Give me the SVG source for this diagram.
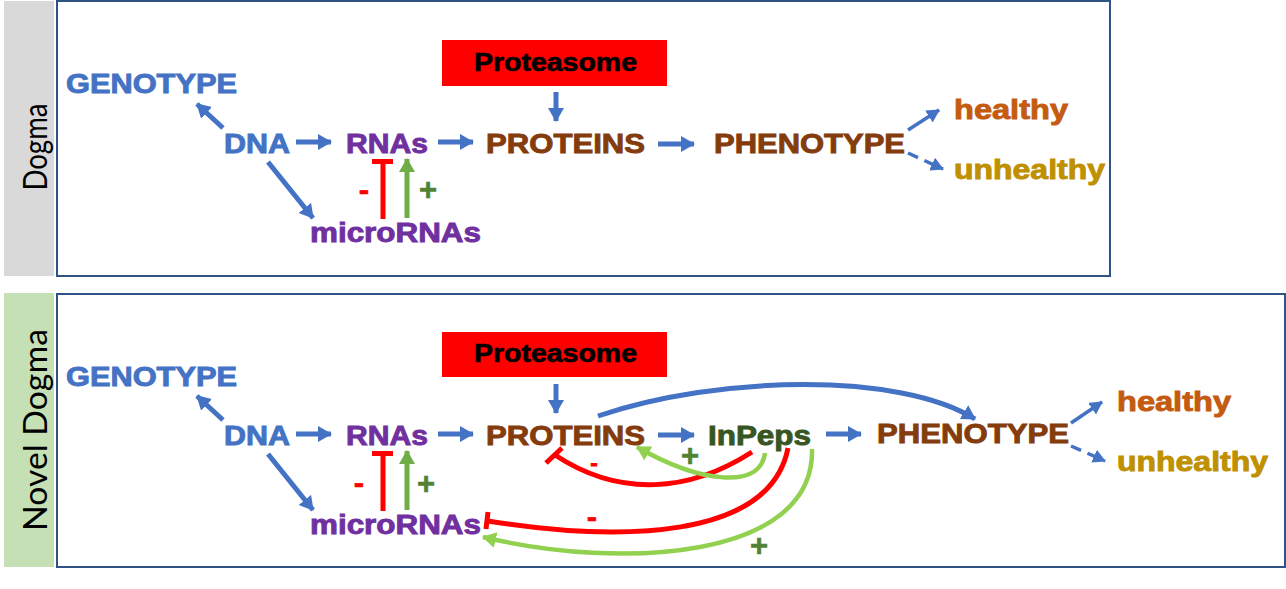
<svg xmlns="http://www.w3.org/2000/svg" width="1286" height="589" viewBox="0 0 1286 589">
<style>
text{font-family:"Liberation Sans",Arial,sans-serif;font-weight:700}
.t{font-size:27px;stroke-width:.9px}
.blue{fill:#4472c4;stroke:#4472c4}.pur{fill:#7030a0;stroke:#7030a0}.br{fill:#843c0c;stroke:#843c0c}.or{fill:#c55a11;stroke:#c55a11}.gold{fill:#bf9000;stroke:#bf9000}.dg{fill:#375623;stroke:#375623}
.side{font-family:Lato,"Noto Sans",sans-serif;font-weight:400;font-size:33px;fill:#000}
.frame{fill:none;stroke:#2f5287;stroke-width:2}
.c{fill:none;stroke-linecap:butt}
.b{stroke:#4472c4;stroke-width:5;marker-end:url(#ab)}
.bt{stroke:#4472c4;stroke-width:3.500;marker-end:url(#abt)}
.r{stroke:#f00;stroke-width:5}
.g{stroke:#70ad47;stroke-width:5;marker-end:url(#ag)}
.lg{stroke:#92d050;stroke-width:4.500;marker-end:url(#alg)}
.sign{font-size:31px;stroke-width:.6px}
.small{font-size:21px;stroke-width:1.200px}
.rs{fill:#f00;stroke:#f00}.gs{fill:#548235;stroke:#548235}
.pt{font-family:"Liberation Sans",Arial,sans-serif;font-size:25px;fill:#000;stroke:#000;stroke-width:.6px}
</style>
<defs>
<marker id="ab" markerUnits="userSpaceOnUse" markerWidth="17" markerHeight="17" refX="13" refY="8" orient="auto"><path d="M0 0L14 8L0 16z" fill="#4472c4"/></marker>
<marker id="abt" markerUnits="userSpaceOnUse" markerWidth="15" markerHeight="15" refX="12" refY="7" orient="auto"><path d="M0 0L13 7L0 14z" fill="#4472c4"/></marker>
<marker id="ag" markerUnits="userSpaceOnUse" markerWidth="17" markerHeight="17" refX="13" refY="8" orient="auto"><path d="M0 0L14 8L0 16z" fill="#70ad47"/></marker>
<marker id="alg" markerUnits="userSpaceOnUse" markerWidth="17" markerHeight="17" refX="13" refY="8" orient="auto"><path d="M0 0L14 8L0 16z" fill="#92d050"/></marker>
</defs>
<rect width="1286" height="589" fill="#fff"/>
<g id="panel-dogma">
<rect x="4" y="1" width="50" height="275" fill="#d9d9d9"/>
<rect class="frame" x="57" y="1" width="1053" height="275"/>
<text class="side" transform="translate(47,147) rotate(-90)" text-anchor="middle" textLength="87" lengthAdjust="spacingAndGlyphs">Dogma</text>
</g>
<g id="panel-novel">
<rect x="4" y="293" width="50" height="274" fill="#c5e0b4"/>
<rect class="frame" x="57" y="294" width="1228" height="273"/>
<text class="side" transform="translate(47,430) rotate(-90)" text-anchor="middle" textLength="202" lengthAdjust="spacingAndGlyphs">Novel Dogma</text>
</g>
<g id="connectors">
<path class="c b" d="M223 128L197 104"/>
<path class="c b" d="M296 142H331"/>
<path class="c b" d="M438 142H473"/>
<path class="c b" d="M268 162L313 218"/>
<path class="c r" d="M383 219V161M372 161.500H393"/>
<path class="c g" d="M407 218V159"/>
<path class="c b" d="M556 92V121"/>
<path class="c b" d="M658 144H694"/>
<path class="c bt" d="M908 130L939 110"/>
<path class="c bt" stroke-dasharray="11 7" d="M908 153L943 169"/>

<path class="c b" d="M223 420L197 396"/>
<path class="c b" d="M296 434H331"/>
<path class="c b" d="M438 434H473"/>
<path class="c b" d="M268 454L313 510"/>
<path class="c r" d="M383 511V453M372 453.500H393"/>
<path class="c g" d="M407 510V451"/>
<path class="c b" d="M556 384V413"/>
<path class="c b" d="M658 435H694"/>
<path class="c b" d="M826 434H861"/>
<path class="c bt" d="M1071 423L1102 402"/>
<path class="c bt" stroke-dasharray="11 7" d="M1071 446L1105 461"/>
<path class="c b" d="M598 416C720 375 900 372 975 419"/>
<path class="c r" d="M752 452C690 492 620 498 555 455M546 463L562 448"/>
<path class="c lg" d="M765 453C760 490 700 483 637 447"/>
<path class="c r" d="M788 448C770 540 620 542 488 521M488 512L486 529"/>
<path class="c lg" d="M812 449C815 560 620 570 483 537"/>
</g>
<g id="proteasome-1"><rect x="442" y="40" width="225" height="46" fill="#f00"/><text class="pt" x="474" y="71" textLength="163" lengthAdjust="spacingAndGlyphs">Proteasome</text></g>
<g id="genotype-1"><text class="t blue" x="66" y="93" textLength="171" lengthAdjust="spacingAndGlyphs">GENOTYPE</text></g>
<g id="dna-1"><text class="t blue" x="224" y="153" textLength="66" lengthAdjust="spacingAndGlyphs">DNA</text></g>
<g id="rnas-1"><text class="t pur" x="346" y="153" textLength="82" lengthAdjust="spacingAndGlyphs">RNAs</text></g>
<g id="proteins-1"><text class="t br" x="486" y="153" textLength="159" lengthAdjust="spacingAndGlyphs">PROTEINS</text></g>
<g id="phenotype-1"><text class="t br" x="714" y="153" textLength="191" lengthAdjust="spacingAndGlyphs">PHENOTYPE</text></g>
<g id="healthy-1"><text class="t or" x="954" y="119" textLength="114" lengthAdjust="spacingAndGlyphs">healthy</text></g>
<g id="unhealthy-1"><text class="t gold" x="954" y="179" textLength="151" lengthAdjust="spacingAndGlyphs">unhealthy</text></g>
<g id="microrna-1"><text class="t pur" x="310" y="242" textLength="171" lengthAdjust="spacingAndGlyphs">microRNAs</text></g>
<g id="signs-1"><text class="sign rs" x="364" y="200" text-anchor="middle">-</text><text class="sign gs" x="428" y="200" text-anchor="middle">+</text></g>

<g id="proteasome-2"><rect x="442" y="332" width="225" height="45" fill="#f00"/><text class="pt" x="474" y="362" textLength="163" lengthAdjust="spacingAndGlyphs">Proteasome</text></g>
<g id="genotype-2"><text class="t blue" x="66" y="386" textLength="171" lengthAdjust="spacingAndGlyphs">GENOTYPE</text></g>
<g id="dna-2"><text class="t blue" x="224" y="445" textLength="66" lengthAdjust="spacingAndGlyphs">DNA</text></g>
<g id="rnas-2"><text class="t pur" x="346" y="445" textLength="82" lengthAdjust="spacingAndGlyphs">RNAs</text></g>
<g id="proteins-2"><text class="t br" x="486" y="445" textLength="159" lengthAdjust="spacingAndGlyphs">PROTEINS</text></g>
<g id="inpeps"><text class="t dg" x="708" y="445" textLength="103" lengthAdjust="spacingAndGlyphs">InPeps</text></g>
<g id="phenotype-2"><text class="t br" x="877" y="443" textLength="192" lengthAdjust="spacingAndGlyphs">PHENOTYPE</text></g>
<g id="healthy-2"><text class="t or" x="1117" y="411" textLength="114" lengthAdjust="spacingAndGlyphs">healthy</text></g>
<g id="unhealthy-2"><text class="t gold" x="1117" y="471" textLength="151" lengthAdjust="spacingAndGlyphs">unhealthy</text></g>
<g id="microrna-2"><text class="t pur" x="310" y="534" textLength="171" lengthAdjust="spacingAndGlyphs">microRNAs</text></g>
<g id="signs-2">
<text class="sign rs" x="359" y="493" text-anchor="middle">-</text><text class="sign gs" x="426" y="494" text-anchor="middle">+</text>
<text class="sign small rs" x="594" y="470" text-anchor="middle">-</text><text class="sign gs" x="690" y="466" text-anchor="middle">+</text>
<text class="sign rs" x="592" y="527" text-anchor="middle">-</text><text class="sign gs" x="759" y="556" text-anchor="middle">+</text>
</g>
</svg>
